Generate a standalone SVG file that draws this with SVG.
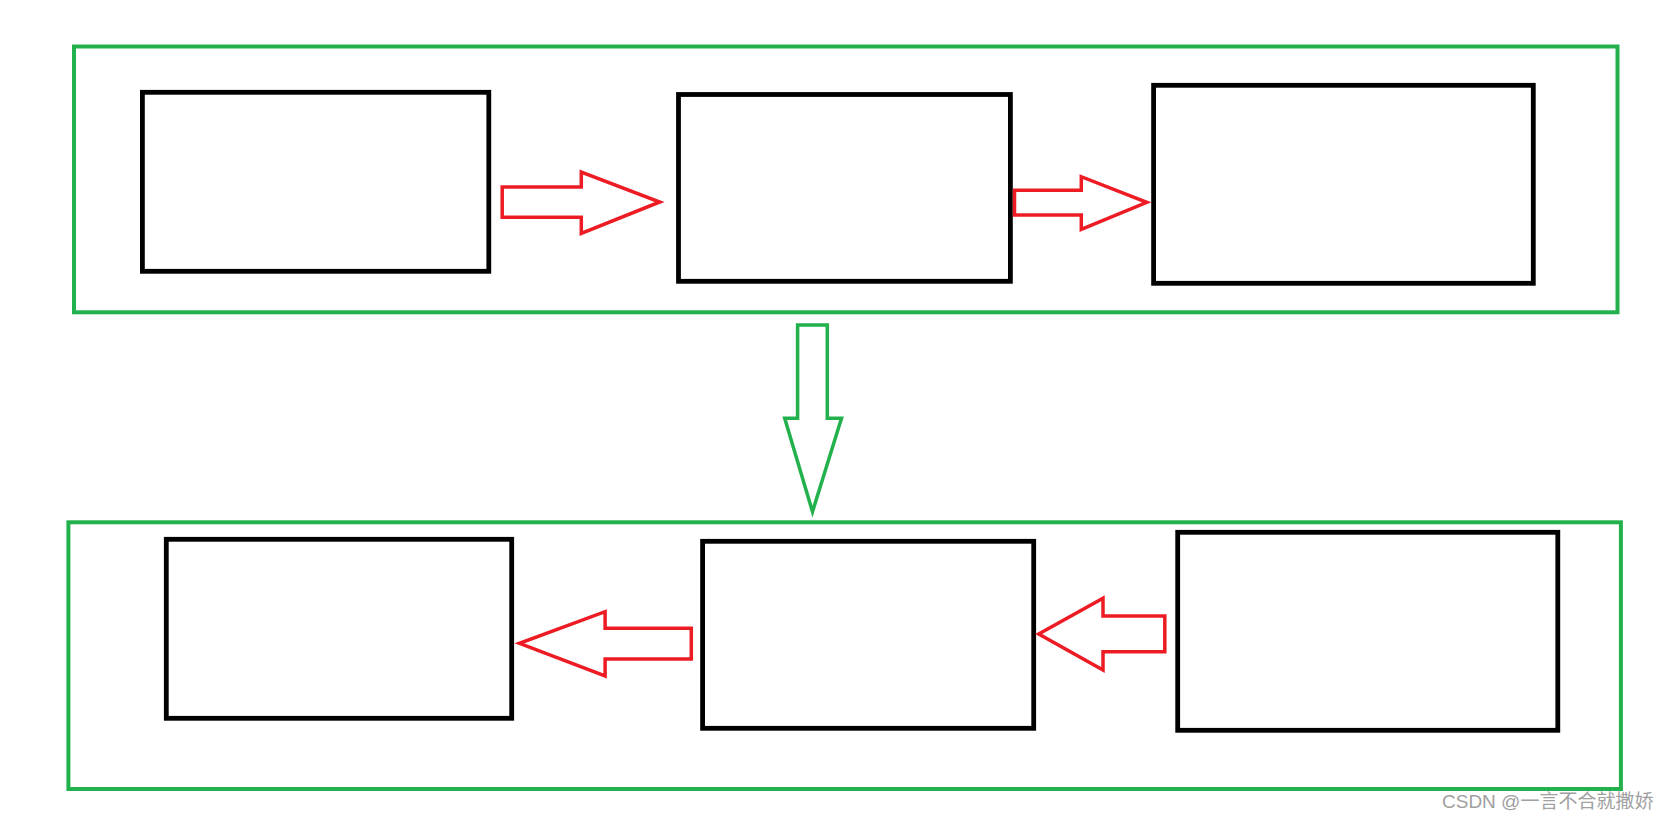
<svg xmlns="http://www.w3.org/2000/svg" width="1669" height="819" viewBox="0 0 1669 819">
<style>
.group{fill:none;stroke:#22b14c;stroke-width:4}
.box{fill:none;stroke:#000;stroke-width:4.8}
.red{fill:none;stroke:#ed1c24;stroke-width:3.5;stroke-linejoin:miter}
.green{fill:none;stroke:#22b14c;stroke-width:3.5;stroke-linejoin:miter}
.wm{font-family:"Liberation Sans","Noto Sans CJK SC",sans-serif;font-size:19px;fill:#a0a0a0}
</style>
<rect width="1669" height="819" fill="#fff"/>
<g id="group-top"><rect class="group" x="74" y="46.5" width="1543.5" height="265.8"/></g>
<g id="group-bottom"><rect class="group" x="68.4" y="522.3" width="1552.5" height="266.7"/></g>
<g id="node-1"><rect class="box" x="142.4" y="92.3" width="346.4" height="179"/></g>
<g id="node-2"><rect class="box" x="678.5" y="94.5" width="331.9" height="186.8"/></g>
<g id="node-3"><rect class="box" x="1153.6" y="85.3" width="379.7" height="198"/></g>
<g id="node-4"><rect class="box" x="166.3" y="539.3" width="345.4" height="179"/></g>
<g id="node-5"><rect class="box" x="702.6" y="541.3" width="331.1" height="187"/></g>
<g id="node-6"><rect class="box" x="1177.7" y="532.3" width="380.1" height="198"/></g>
<g id="connectors">
<polygon class="red" points="502.2,187 581.3,187 581.3,172 659.8,202 581.3,233.3 581.3,217.3 502.2,217.3"/>
<polygon class="red" points="1014.5,190.3 1081.3,190.3 1081.3,176.7 1146.8,202.3 1081.3,229.3 1081.3,215 1014.5,215"/>
<polygon class="green" points="797.6,325 827.3,325 827.3,418.3 841.5,418.3 812.5,511.7 784.7,418.3 797.6,418.3"/>
<polygon class="red" points="691.3,628.3 605.1,628.3 605.1,611.7 519.4,643.3 605.1,676 605.1,659 691.3,659"/>
<polygon class="red" points="1164.8,616 1103,616 1103,598.3 1038.7,634 1103,670 1103,651.7 1164.8,651.7"/>
</g>
<text class="wm" x="1442" y="807.5">CSDN @一言不合就撒娇</text>
</svg>
